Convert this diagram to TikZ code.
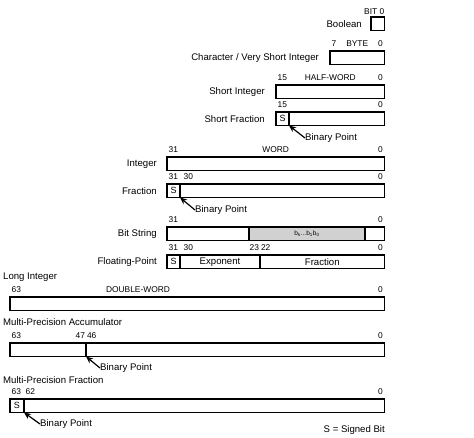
\documentclass[tikz,border=0pt]{standalone}
\usepackage{fontspec}
\setmainfont{Liberation Sans}
\usetikzlibrary{arrows.meta,positioning}

\begin{document}
\begin{tikzpicture}[
  x=1pt, y=-1pt,
  fld/.style={draw=black, line width=1.1pt, minimum height=13.5pt, inner sep=0pt,
              outer sep=0pt, font=\fontsize{9}{10}\selectfont},
  bitno/.style={inner sep=1.5pt, yshift=2.5pt, font=\fontsize{8.4}{9}\selectfont},
  rowlab/.style={inner sep=0pt, font=\fontsize{9.6}{11}\selectfont},
  ptr/.style={-{Stealth[length=7pt,width=6pt]}, line width=1.2pt}
]
\useasboundingbox (0,0) rectangle (474,438);

\node[fld, minimum width=13.5pt, anchor=north east] (bool) at (384.5,17) {};
\node[bitno, anchor=south east, inner sep=0pt] (boolb) at (bool.north east) {BIT 0};
\node[rowlab, left=9pt of bool] (boollab) {Boolean};

\node[fld, minimum width=54.5pt, anchor=north east] (byte) at (384.5,51) {};
\node[bitno, anchor=south west] (byteh) at (byte.north west) {7};
\node[bitno, anchor=south] (bytet) at (byte.north) {BYTE};
\node[bitno, anchor=south east] (bytel) at (byte.north east) {0};
\node[rowlab, left=11pt of byte] (bytelab) {Character / Very Short Integer};

\node[fld, minimum width=108.5pt, anchor=north east] (half) at (384.5,85) {};
\node[bitno, anchor=south west] (halfh) at (half.north west) {15};
\node[bitno, anchor=south] (halft) at (half.north) {HALF-WORD};
\node[bitno, anchor=south east] (halfl) at (half.north east) {0};
\node[rowlab, left=11pt of half] (halflab) {Short Integer};

\node[fld, minimum width=108.5pt, anchor=north east] (sf) at (384.5,112) {};
\node[fld, minimum width=13pt, anchor=north west] (sfS) at (sf.north west) {S};
\node[bitno, anchor=south west] (sfh) at (sf.north west) {15};
\node[bitno, anchor=south east] (sfl) at (sf.north east) {0};
\node[rowlab, left=11pt of sf] (sflab) {Short Fraction};
\node[rowlab, anchor=west] (bp1) at (305,138) {Binary Point};
\draw[ptr] (bp1.west) -- (sfS.south east);

\node[fld, minimum width=217.5pt, anchor=north east] (int) at (384.5,157) {};
\node[bitno, anchor=south west] (inth) at (int.north west) {31};
\node[bitno, anchor=south] (intt) at (int.north) {WORD};
\node[bitno, anchor=south east] (intl) at (int.north east) {0};
\node[rowlab, left=10pt of int] (intlab) {Integer};

\node[fld, minimum width=217.5pt, anchor=north east] (fr) at (384.5,184) {};
\node[fld, minimum width=13pt, anchor=north west] (frS) at (fr.north west) {S};
\node[bitno, anchor=south west] (frh) at (fr.north west) {31};
\node[bitno, anchor=south west] (frh2) at ([xshift=2pt]frS.north east) {30};
\node[bitno, anchor=south east] (frl) at (fr.north east) {0};
\node[rowlab, left=10pt of fr] (frlab) {Fraction};
\node[rowlab, anchor=west] (bp2) at (195,210) {Binary Point};
\draw[ptr] (bp2.west) -- (frS.south east);

\node[fld, minimum width=217.5pt, anchor=north east] (bs) at (384.5,227) {};
\node[fld, fill=black!18, minimum width=116pt, anchor=north west, font=\fontsize{6.5}{7}\selectfont]
  (bsmid) at ([xshift=82pt]bs.north west) {b\textsubscript{k}...b\textsubscript{1}b\textsubscript{0}};
\node[bitno, anchor=south west] (bsh) at (bs.north west) {31};
\node[bitno, anchor=south east] (bsl) at (bs.north east) {0};
\node[rowlab, left=10pt of bs] (bslab) {Bit String};

\node[fld, minimum width=217.5pt, anchor=north east] (fp) at (384.5,255) {};
\node[fld, minimum width=13pt, anchor=north west] (fpS) at (fp.north west) {S};
\node[fld, minimum width=80pt, anchor=north west, font=\fontsize{9.6}{11}\selectfont]
  (fpE) at (fpS.north east) {Exponent};
\node[fld, minimum width=124.5pt, anchor=north west, font=\fontsize{9.6}{11}\selectfont]
  (fpF) at (fpE.north east) {Fraction};
\node[bitno, anchor=south west] (fph) at (fp.north west) {31};
\node[bitno, anchor=south west] (fph2) at ([xshift=2pt]fpS.north east) {30};
\node[bitno, anchor=south east, inner xsep=0.8pt] (fpe1) at (fpE.north east) {23};
\node[bitno, anchor=south west, inner xsep=0.8pt] (fpe2) at (fpE.north east) {22};
\node[bitno, anchor=south east] (fpl) at (fp.north east) {0};
\node[rowlab, left=10pt of fp] (fplab) {Floating-Point};

\node[rowlab, anchor=west] (lilab) at (3,277) {Long Integer};
\node[fld, minimum width=374.5pt, anchor=north east] (li) at (384.5,297) {};
\node[bitno, anchor=south west] (lih) at (li.north west) {63};
\node[bitno, anchor=south] (lit) at (138,297) {DOUBLE-WORD};
\node[bitno, anchor=south east] (lil) at (li.north east) {0};

\node[rowlab, anchor=west] (mpalab) at (3,322) {Multi-Precision Accumulator};
\node[fld, minimum width=374.5pt, anchor=north east] (mpa) at (384.5,343) {};
\node[fld, minimum width=76pt, anchor=north west] (mpaI) at (mpa.north west) {};
\node[bitno, anchor=south west] (mpah) at (mpa.north west) {63};
\node[bitno, anchor=south east, inner xsep=0.8pt] (mpam1) at (mpaI.north east) {47};
\node[bitno, anchor=south west, inner xsep=0.8pt] (mpam2) at (mpaI.north east) {46};
\node[bitno, anchor=south east] (mpal) at (mpa.north east) {0};
\node[rowlab, anchor=west] (bp3) at (100,368) {Binary Point};
\draw[ptr] (bp3.west) -- (mpaI.south east);

\node[rowlab, anchor=west] (mpflab) at (3,380) {Multi-Precision Fraction};
\node[fld, minimum width=374.5pt, anchor=north east] (mpf) at (384.5,399) {};
\node[fld, minimum width=14pt, anchor=north west] (mpfS) at (mpf.north west) {S};
\node[bitno, anchor=south west] (mpfh) at (mpf.north west) {63};
\node[bitno, anchor=south west] (mpfh2) at (mpfS.north east) {62};
\node[bitno, anchor=south east] (mpfl) at (mpf.north east) {0};
\node[rowlab, anchor=west] (bp4) at (40,424) {Binary Point};
\draw[ptr] (bp4.west) -- (mpfS.south east);

\node[rowlab, anchor=east] (key) at (385,430) {S = Signed Bit};
\end{tikzpicture}
\end{document}
